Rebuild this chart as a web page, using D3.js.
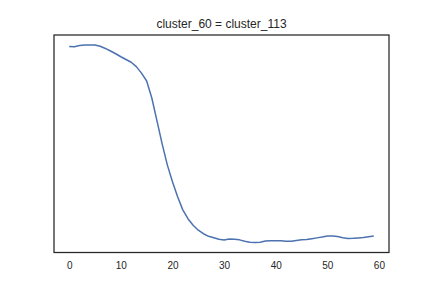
<!DOCTYPE html>
<html>
<head>
<meta charset="utf-8">
<script src="https://cdn.jsdelivr.net/npm/d3@7"></script>
<style>
  body { margin: 0; background: #fff; }
  text { font-family: "Liberation Sans", Arial, sans-serif; fill: #262626; }
</style>
</head>
<body>
<div id="chart"></div>
<script>
const title = "cluster_60 = cluster_113";
const xTicks = [0, 10, 20, 30, 40, 50, 60];
const values = [
  0.997, 0.996, 1.002, 1.005, 1.005, 1.004, 0.998, 0.987, 0.974, 0.960,
  0.945, 0.931, 0.917, 0.895, 0.862, 0.822, 0.736, 0.620, 0.503, 0.397,
  0.311, 0.235, 0.169, 0.124, 0.091, 0.066, 0.048, 0.035, 0.028, 0.020,
  0.016, 0.021, 0.020, 0.017, 0.010, 0.005, 0.003, 0.005, 0.011, 0.013,
  0.013, 0.013, 0.010, 0.010, 0.014, 0.017, 0.019, 0.023, 0.027, 0.031,
  0.036, 0.037, 0.034, 0.028, 0.024, 0.025, 0.027, 0.029, 0.033, 0.036
];

const width = 432, height = 288;
const margin = { top: 35, right: 43, bottom: 35.5, left: 54 };
const w = width - margin.left - margin.right;
const h = height - margin.top - margin.bottom;

const svg = d3.select("#chart").append("svg")
    .attr("width", width)
    .attr("height", height);

const g = svg.append("g")
    .attr("transform", `translate(${margin.left},${margin.top})`);

// matplotlib-style 5% padding
const n = values.length;
const xPad = (n - 1) * 0.05;
const x = d3.scaleLinear()
    .domain([-xPad, n - 1 + xPad])
    .range([0, w]);

const [ymin, ymax] = d3.extent(values);
const yPad = (ymax - ymin) * 0.05;
const y = d3.scaleLinear()
    .domain([ymin - yPad, ymax + yPad])
    .range([h, 0]);

const line = d3.line()
    .x((d, i) => x(i))
    .y(d => y(d));

g.append("path")
    .datum(values)
    .attr("fill", "none")
    .attr("stroke", "#4c72b0")
    .attr("stroke-width", 1.5)
    .attr("stroke-linejoin", "round")
    .attr("d", line);

// x axis labels, no tick marks
const xAxis = g.append("g")
    .attr("transform", `translate(0,${h})`)
    .call(d3.axisBottom(x).tickValues(xTicks).tickSize(0).tickPadding(9));
xAxis.select(".domain").remove();
xAxis.selectAll("text")
    .attr("font-size", "10px")
    .style("font-family", "'Liberation Sans', Arial, sans-serif")
    .attr("fill", "#262626");

// frame
g.append("rect")
    .attr("x", 0).attr("y", 0)
    .attr("width", w).attr("height", h)
    .attr("fill", "none")
    .attr("stroke", "#262626")
    .attr("stroke-width", 1.25);

g.append("text")
    .attr("x", w / 2)
    .attr("y", -7)
    .attr("text-anchor", "middle")
    .attr("font-size", "12px")
    .text(title);
</script>
</body>
</html>
